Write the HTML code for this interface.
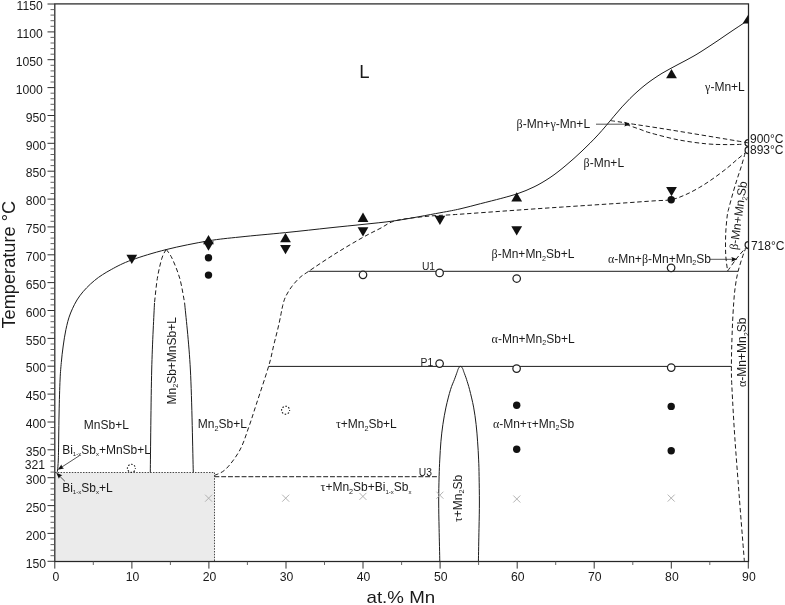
<!DOCTYPE html>
<html lang="en">
<head>
<meta charset="utf-8">
<title>Phase diagram</title>
<style>
html,body{margin:0;padding:0;background:#fff}
svg{display:block}
.s{fill:none;stroke:#1c1c1c;stroke-width:1}
.d{fill:none;stroke:#1c1c1c;stroke-width:1;stroke-dasharray:4.4 2.7}
.m{fill:#111;stroke:none}
.o{fill:#fff;stroke:#222;stroke-width:1.25}
text{font-family:"Liberation Sans",Arial,Helvetica,sans-serif;fill:#1a1a1a}
.sub{font-size:6px}
.sub2{font-size:7.2px}
.g{font-family:"Liberation Serif","Times New Roman",serif}
</style>
</head>
<body>
<svg width="785" height="605" viewBox="0 0 785 605">
<rect width="785" height="605" fill="#fff"/>
<rect x="54.8" y="472.5" width="159.6" height="89" fill="#ebebeb"/>
<path d="M55 472.5H214.5V561.5" fill="none" stroke="#333" stroke-width="0.9" stroke-dasharray="1.5 1.3"/>
<path d="M57 472.5C57.1 472.1 57.4 472.1 57.6 470C57.8 467.9 58.1 465.3 58.3 460C58.5 454.7 58.6 446 58.7 438C58.8 430 58.9 421.8 59.1 412C59.3 402.2 59.7 387.2 60.1 379C60.5 370.8 60.8 368.1 61.3 362.6C61.8 357.1 62.4 351.5 63.2 346C64 340.5 64.7 335.1 65.9 329.6C67.1 324.1 68.3 318.6 70.6 313C72.9 307.4 75.8 301.2 79.8 295.8C83.8 290.4 89.2 284.9 94.5 280.5C99.8 276.1 105.1 272.9 111.3 269.5C117.5 266.1 122.6 263.3 131.7 260C140.8 256.7 153.3 252.8 166.1 249.6C178.8 246.4 195.9 243 208.2 240.9C220.5 238.8 227.1 238.4 240 237C252.9 235.6 270.5 234.1 285.5 232.6C300.5 231.1 317.1 229.2 330 227.8C342.9 226.4 352 225.6 363 224.4C374 223.2 383.2 222.5 396 220.6C408.8 218.7 429.2 214.8 439.9 212.8C450.6 210.9 453.2 210.4 460 208.9C466.8 207.4 473.6 205.4 480.4 203.7C487.2 202 495.9 199.8 500.8 198.5C505.7 197.2 507.1 196.8 510 196C512.9 195.2 515.3 194.4 518 193.5C520.7 192.6 523.3 191.6 526 190.5C528.7 189.4 531.3 188.2 534 186.9C536.7 185.6 539.3 184.2 542 182.6C544.7 181 547.3 179.4 550 177.6C552.7 175.8 555.3 173.9 558 171.8C560.7 169.8 563.3 167.5 566 165.3C568.7 163.1 571.3 160.8 574 158.4C576.7 156 579.3 153.5 582 151C584.7 148.5 587.3 145.9 590 143.2C592.7 140.5 595.3 137.8 598 134.9C600.7 132 603.3 128.9 606 125.8C608.7 122.7 611.3 119.3 614 116.2C616.7 113.1 619.3 109.9 622 106.9C624.7 104 627.3 101.2 630 98.5C632.7 95.8 635.3 93.4 638 91C640.7 88.6 643.3 86.4 646 84.3C648.7 82.2 651.3 80.3 654 78.5C656.7 76.7 659.3 74.9 662 73.3C664.7 71.7 667.3 70.3 670 68.8C672.7 67.3 675.3 65.9 678 64.5C680.7 63.1 683.3 61.7 686 60.3C688.7 58.9 691.3 57.4 694 55.9C696.7 54.4 699.3 52.7 702 51C704.7 49.3 707.3 47.5 710 45.8C712.7 44 715.3 42.3 718 40.5C720.7 38.7 723.3 36.8 726 35C728.7 33.2 731.3 31.4 734 29.6C736.7 27.8 739.6 25.9 742 24.3C744.4 22.7 747.4 20.8 748.5 20.1" class="s"/>
<path d="M166.2 249.4C165.5 250.9 163.4 253.3 161.9 258.2C160.4 263.1 158.5 271.2 157.3 278.6C156.1 286 155 298.8 154.5 302.8" class="d"/>
<path d="M166.2 249.4C167.2 250.9 169.7 253.3 172 258.2C174.3 263.1 177.7 271.2 179.8 278.6C181.9 286 183.8 298.8 184.6 302.8" class="d"/>
<path d="M154.5 302.8C154 314 152.4 341.7 151.7 370C151 398.3 150.5 455.4 150.3 472.5" class="s"/>
<path d="M184.6 302.8C185.6 314 188.9 341.7 190.4 370C191.9 398.3 192.8 455.4 193.3 472.5" class="s"/>
<path d="M439.8 561.5C439.7 556 439.3 538.5 439.1 528.6C438.9 518.7 438.7 510.7 438.7 502C438.7 493.3 438.9 483.6 439.1 476.5C439.3 469.4 439.5 464.9 439.8 459.1C440.1 453.3 440.4 447.6 440.9 441.8C441.4 436 442 430.2 442.9 424.4C443.8 418.6 444.7 412.9 446 407.1C447.3 401.3 449.1 394.3 450.5 389.7C451.9 385.1 453.4 382.2 454.5 379.3C455.6 376.4 456.4 374 457 372.4C457.6 370.8 457.7 370.1 458 369.4C458.3 368.6 458.5 368.3 458.8 367.9C459 367.5 459.2 367.1 459.5 366.9C459.8 366.6 460.2 366.4 460.5 366.4C460.8 366.4 461.2 366.6 461.5 366.9C461.8 367.1 462 367.5 462.2 367.9C462.5 368.3 462.7 368.6 463 369.4C463.3 370.1 463.4 370.8 464 372.4C464.6 374 465.6 376.4 466.5 379.3C467.4 382.2 468.4 385.1 469.6 389.7C470.8 394.3 472.5 401.3 473.6 407.1C474.7 412.9 475.4 418.6 476.1 424.4C476.8 430.2 477.2 436 477.6 441.8C478 447.6 478.4 453.3 478.6 459.1C478.9 464.9 479 469.4 479.1 476.5C479.2 483.6 479.4 493.3 479.4 502C479.4 510.7 479.2 518.7 479 528.6C478.8 538.5 478.5 556 478.4 561.5" class="s"/>
<path d="M308.5 271.3H738" class="s"/>
<path d="M268.4 366.4H731.4" class="s"/>
<path d="M214.4 476.6H439" fill="none" stroke="#4a4a4a" stroke-width="1.4" stroke-dasharray="4.9 1.9"/>
<path d="M214.4 475.5C216.3 474.4 221.7 473.2 225.9 469C230.2 464.8 236.1 457 239.9 450C243.7 443 246.1 434.7 248.8 427C251.6 419.3 253.1 414.1 256.4 404C259.7 393.9 265.7 376.2 268.6 366.4C271.5 356.6 272.2 351.5 273.7 345.3C275.2 339.1 276.5 334.3 277.7 329.4C278.9 324.4 279.9 319.6 280.7 315.6C281.5 311.6 281.9 308.8 282.7 305.6C283.5 302.5 284.1 299.8 285.6 296.7C287.1 293.6 289.3 289.9 291.6 286.8C293.9 283.7 296.7 280.5 299.5 277.9C302.3 275.3 302.6 275.4 308.5 271.4C314.4 267.4 325.9 259.6 335 253.9C344.1 248.2 355.5 241.5 363 237.3C370.5 233.1 374.5 231.3 380 228.5C385.5 225.7 388.2 222.6 396 220.6C403.8 218.6 417.1 217.3 427 216.3C436.9 215.3 440.8 215.5 455.7 214.5C470.6 213.5 498.5 211.4 516.3 210.2C534.1 208.9 546.1 208.1 562.7 207C579.4 205.9 600.8 204.5 616.2 203.5C631.6 202.5 645.8 201.4 655 200.8C664.2 200.2 666.3 200.7 671.3 199.7C676.3 198.7 680.5 196.9 685.1 194.9C689.8 192.9 694.5 190.3 699.2 187.6C703.9 184.9 708.5 181.8 713.2 178.5C717.9 175.2 723.3 171.1 727.3 167.9C731.3 164.7 734.1 162 737.1 159.5C740.1 157 743.9 153.9 745.2 152.8" class="d"/>
<path d="M745.2 152.8C744.6 155.1 742.6 162.1 741.3 166.5C739.9 170.9 738.5 174.8 737.1 179.2C735.7 183.6 734.3 188.3 732.9 193.2C731.5 198.1 729.7 204.9 728.7 208.7C727.8 212.5 727.7 211.8 727.2 216C726.7 220.2 726 227.2 725.7 233.6C725.5 240 725.4 248.4 725.7 254.6C726 260.8 727.3 268.3 727.6 271" class="d"/>
<path d="M727.6 271C729.2 268.8 733.9 261.9 737 258C740.1 254.1 744.5 249.2 746 247.5" class="d"/>
<path d="M746.5 247.5C746.1 248.3 745.4 248.6 744 252.5C742.6 256.4 739.6 265.4 738.2 271C736.8 276.6 736.1 280.7 735.4 286C734.6 291.3 734.2 295.8 733.7 303C733.2 310.2 732.7 318.5 732.3 329C731.9 339.5 731.4 356 731.4 366C731.4 376 731.4 377.1 732 389C732.6 400.9 733.6 419.7 734.8 437.3C736 454.9 737.7 476 739.1 494.6C740.5 513.2 742.5 538 743.4 549.1C744.3 560.2 744.2 559.4 744.4 561.5" class="d"/>
<path d="M610.6 120.6C612.5 120.9 618.9 121.8 622 122.3C625.1 122.8 620.8 122.2 629 123.5C637.2 124.8 652 126.9 671 130C690 133.1 730.4 139.8 742.7 141.9C755 144 744.6 142.2 745 142.3" class="d"/>
<path d="M626 124.5C628.3 125.3 636 127.9 640 129.3C644 130.7 643.6 131.1 650 132.8C656.4 134.6 668.7 138 678.1 139.8C687.5 141.6 698 143 706.2 143.8C714.4 144.6 720.9 144.5 727.3 144.6C733.7 144.7 741.6 144.3 744.5 144.2" class="d"/>
<rect x="54.8" y="3.9" width="693.7" height="557.6" fill="none" stroke="#262626" stroke-width="1.25"/>
<path d="M54.8 561.3H47.5M54.8 533.4H47.5M54.8 505.6H47.5M54.8 477.7H47.5M54.8 449.8H47.5M54.8 422H47.5M54.8 394.1H47.5M54.8 366.2H47.5M54.8 338.4H47.5M54.8 310.5H47.5M54.8 282.6H47.5M54.8 254.8H47.5M54.8 226.9H47.5M54.8 199.1H47.5M54.8 171.2H47.5M54.8 143.3H47.5M54.8 115.5H47.5M54.8 87.6H47.5M54.8 59.7H47.5M54.8 31.9H47.5M54.8 4H47.5M54.8 561.5V568.6M131.9 561.5V568.6M208.9 561.5V568.6M286 561.5V568.6M363 561.5V568.6M440.1 561.5V568.6M517.2 561.5V568.6M594.2 561.5V568.6M671.3 561.5V568.6M748.3 561.5V568.6" fill="none" stroke="#333" stroke-width="1"/>
<path d="M54.8 555.7H50.5M54.8 550.2H50.5M54.8 544.6H50.5M54.8 539H50.5M54.8 527.9H50.5M54.8 522.3H50.5M54.8 516.7H50.5M54.8 511.1H50.5M54.8 500H50.5M54.8 494.4H50.5M54.8 488.9H50.5M54.8 483.3H50.5M54.8 472.1H50.5M54.8 466.6H50.5M54.8 461H50.5M54.8 455.4H50.5M54.8 444.3H50.5M54.8 438.7H50.5M54.8 433.1H50.5M54.8 427.5H50.5M54.8 416.4H50.5M54.8 410.8H50.5M54.8 405.3H50.5M54.8 399.7H50.5M54.8 388.5H50.5M54.8 383H50.5M54.8 377.4H50.5M54.8 371.8H50.5M54.8 360.7H50.5M54.8 355.1H50.5M54.8 349.5H50.5M54.8 344H50.5M54.8 332.8H50.5M54.8 327.2H50.5M54.8 321.7H50.5M54.8 316.1H50.5M54.8 304.9H50.5M54.8 299.4H50.5M54.8 293.8H50.5M54.8 288.2H50.5M54.8 277.1H50.5M54.8 271.5H50.5M54.8 265.9H50.5M54.8 260.4H50.5M54.8 249.2H50.5M54.8 243.6H50.5M54.8 238.1H50.5M54.8 232.5H50.5M54.8 221.3H50.5M54.8 215.8H50.5M54.8 210.2H50.5M54.8 204.6H50.5M54.8 193.5H50.5M54.8 187.9H50.5M54.8 182.3H50.5M54.8 176.8H50.5M54.8 165.6H50.5M54.8 160H50.5M54.8 154.5H50.5M54.8 148.9H50.5M54.8 137.8H50.5M54.8 132.2H50.5M54.8 126.6H50.5M54.8 121H50.5M54.8 109.9H50.5M54.8 104.3H50.5M54.8 98.7H50.5M54.8 93.2H50.5M54.8 82H50.5M54.8 76.4H50.5M54.8 70.9H50.5M54.8 65.3H50.5M54.8 54.2H50.5M54.8 48.6H50.5M54.8 43H50.5M54.8 37.4H50.5M54.8 26.3H50.5M54.8 20.7H50.5M54.8 15.1H50.5M54.8 9.6H50.5M93.3 561.5V565M170.4 561.5V565M247.4 561.5V565M324.5 561.5V565M401.6 561.5V565M478.6 561.5V565M555.7 561.5V565M632.8 561.5V565M709.8 561.5V565" fill="none" stroke="#555" stroke-width="0.9"/>
<path d="M208.5 235L213.9 244.3H203.1Z" class="m"/>
<path d="M285.5 233L290.9 242.3H280.1Z" class="m"/>
<path d="M363 212.6L368.4 221.9H357.6Z" class="m"/>
<path d="M516.7 192.2L522.1 201.5H511.3Z" class="m"/>
<path d="M671.5 69L676.9 78.3H666.1Z" class="m"/>
<path d="M748.5 14.2L748.5 23.5H742.6Z" class="m"/>
<path d="M126.4 254.8H137.2L131.8 264.1Z" class="m"/>
<path d="M203.1 241.5H213.9L208.5 250.8Z" class="m"/>
<path d="M280.1 245H290.9L285.5 254.3Z" class="m"/>
<path d="M357.6 227.2H368.4L363 236.5Z" class="m"/>
<path d="M434.5 215.7H445.3L439.9 225Z" class="m"/>
<path d="M511.3 226.2H522.1L516.7 235.5Z" class="m"/>
<path d="M666.1 187H676.9L671.5 196.3Z" class="m"/>
<circle cx="208.5" cy="257.7" r="3.7" class="m"/>
<circle cx="208.5" cy="275.1" r="3.7" class="m"/>
<circle cx="671.2" cy="199.8" r="3.7" class="m"/>
<circle cx="516.7" cy="405.2" r="3.7" class="m"/>
<circle cx="516.7" cy="449.3" r="3.7" class="m"/>
<circle cx="671.2" cy="406.4" r="3.7" class="m"/>
<circle cx="671.2" cy="450.8" r="3.7" class="m"/>
<circle cx="363" cy="274.8" r="3.75" class="o"/>
<circle cx="439.6" cy="272.9" r="3.75" class="o"/>
<circle cx="516.7" cy="278.5" r="3.75" class="o"/>
<circle cx="671.1" cy="267.8" r="3.75" class="o"/>
<circle cx="439.6" cy="363.6" r="3.75" class="o"/>
<circle cx="516.6" cy="368.6" r="3.75" class="o"/>
<circle cx="671.2" cy="367.6" r="3.75" class="o"/>
<path d="M748.5 139.5A3.4 3.4 0 0 0 748.5 146.3" class="o" style="fill:none" stroke-width="1.4"/>
<path d="M748.5 146.9A3.4 3.4 0 0 0 748.5 153.7" class="o" style="fill:none" stroke-width="1.4"/>
<path d="M748.5 241.7A3.4 3.4 0 0 0 748.5 248.5" class="o" style="fill:none" stroke-width="1.4"/>
<circle cx="131.4" cy="468.3" r="4" fill="none" stroke="#111" stroke-width="1.1" stroke-dasharray="1.5 1.64" stroke-dashoffset="0.75"/>
<circle cx="285.6" cy="410.2" r="4" fill="none" stroke="#111" stroke-width="1.1" stroke-dasharray="1.5 1.64" stroke-dashoffset="0.75"/>
<path d="M205.1 494.7l7 7m0 -7l-7 7M282.2 494.7l7 7m0 -7l-7 7M359.4 492.9l7 7m0 -7l-7 7M436.4 491.7l7 7m0 -7l-7 7M513.3 495.5l7 7m0 -7l-7 7M667.7 494.6l7 7m0 -7l-7 7" fill="none" stroke="#aaa" stroke-width="0.9"/>
<path d="M596 124.2L627.4 124.2" class="s" style="stroke-width:.75"/>
<path d="M630.4 124.2L624.4 126.6L625.2 124.2L624.4 121.8Z" class="m"/>
<path d="M710 259.3L734.4 259.3" class="s" style="stroke-width:.75"/>
<path d="M737.4 259.3L731.4 261.7L732.2 259.3L731.4 256.9Z" class="m"/>
<path d="M79.8 455.4L60.2 468.1" class="s" style="stroke-width:.75"/>
<path d="M57.7 469.7L61.4 464.4L62.1 466.9L64 468.5Z" class="m"/>
<path d="M64.9 481.3L58.4 474.9" class="s" style="stroke-width:.75"/>
<path d="M56.3 472.8L62.3 475.3L60 476.5L58.9 478.7Z" class="m"/>
<text class="t" x="46" y="567.5" font-size="12.2" text-anchor="end">150</text>
<text class="t" x="46" y="539.6" font-size="12.2" text-anchor="end">200</text>
<text class="t" x="46" y="511.8" font-size="12.2" text-anchor="end">250</text>
<text class="t" x="46" y="483.9" font-size="12.2" text-anchor="end">300</text>
<text class="t" x="46" y="456" font-size="12.2" text-anchor="end">350</text>
<text class="t" x="46" y="428.2" font-size="12.2" text-anchor="end">400</text>
<text class="t" x="46" y="400.3" font-size="12.2" text-anchor="end">450</text>
<text class="t" x="46" y="372.4" font-size="12.2" text-anchor="end">500</text>
<text class="t" x="46" y="344.6" font-size="12.2" text-anchor="end">550</text>
<text class="t" x="46" y="316.7" font-size="12.2" text-anchor="end">600</text>
<text class="t" x="46" y="288.8" font-size="12.2" text-anchor="end">650</text>
<text class="t" x="46" y="261" font-size="12.2" text-anchor="end">700</text>
<text class="t" x="46" y="233.1" font-size="12.2" text-anchor="end">750</text>
<text class="t" x="46" y="205.3" font-size="12.2" text-anchor="end">800</text>
<text class="t" x="46" y="177.4" font-size="12.2" text-anchor="end">850</text>
<text class="t" x="46" y="149.5" font-size="12.2" text-anchor="end">900</text>
<text class="t" x="46" y="121.7" font-size="12.2" text-anchor="end">950</text>
<text class="t" x="42.8" y="93.8" font-size="12.2" text-anchor="end">1000</text>
<text class="t" x="42.8" y="65.9" font-size="12.2" text-anchor="end">1050</text>
<text class="t" x="42.8" y="38.1" font-size="12.2" text-anchor="end">1100</text>
<text class="t" x="42.8" y="10.2" font-size="12.2" text-anchor="end">1150</text>
<text class="t" x="45" y="469.2" font-size="12.2" text-anchor="end">321</text>
<text class="t" x="56" y="581.2" font-size="12.2" text-anchor="middle">0</text>
<text class="t" x="132.5" y="581.2" font-size="12.2" text-anchor="middle">10</text>
<text class="t" x="209.5" y="581.2" font-size="12.2" text-anchor="middle">20</text>
<text class="t" x="286.6" y="581.2" font-size="12.2" text-anchor="middle">30</text>
<text class="t" x="363.6" y="581.2" font-size="12.2" text-anchor="middle">40</text>
<text class="t" x="440.7" y="581.2" font-size="12.2" text-anchor="middle">50</text>
<text class="t" x="517.8" y="581.2" font-size="12.2" text-anchor="middle">60</text>
<text class="t" x="594.8" y="581.2" font-size="12.2" text-anchor="middle">70</text>
<text class="t" x="671.9" y="581.2" font-size="12.2" text-anchor="middle">80</text>
<text class="t" x="748.9" y="581.2" font-size="12.2" text-anchor="middle">90</text>
<text class="t" x="14.7" y="328.5" font-size="18.2" transform="rotate(-90 14.7 328.5)">Temperature °C</text>
<text class="t" transform="translate(366.5 602.9) scale(1.17 1)" font-size="16">at.% Mn</text>
<text class="t" x="359.3" y="77.6" font-size="18.5">L</text>
<text class="t" x="705.1" y="91.4" font-size="12"><tspan class="g">γ</tspan>-Mn+L</text>
<text class="t" x="516.6" y="128.1" font-size="12"><tspan class="g">β</tspan>-Mn+<tspan class="g">γ</tspan>-Mn+L</text>
<text class="t" x="583.6" y="167" font-size="12"><tspan class="g">β</tspan>-Mn+L</text>
<text class="t" x="491.6" y="258.1" font-size="12"><tspan class="g">β</tspan>-Mn+Mn<tspan class="sub2" dy="2.4">2</tspan><tspan dy="-2.4">Sb+L</tspan></text>
<text class="t" x="607.9" y="262.6" font-size="12"><tspan class="g">α</tspan>-Mn+<tspan class="g">β</tspan>-Mn+Mn<tspan class="sub2" dy="2.4">2</tspan><tspan dy="-2.4">Sb</tspan></text>
<text class="t" x="491.6" y="342.6" font-size="12"><tspan class="g">α</tspan>-Mn+Mn<tspan class="sub2" dy="2.4">2</tspan><tspan dy="-2.4">Sb+L</tspan></text>
<text class="t" x="492.9" y="428" font-size="12"><tspan class="g">α</tspan>-Mn+<tspan class="g">τ</tspan>+Mn<tspan class="sub2" dy="2.4">2</tspan><tspan dy="-2.4">Sb</tspan></text>
<text class="t" x="335.9" y="428.4" font-size="12"><tspan class="g">τ</tspan>+Mn<tspan class="sub2" dy="2.4">2</tspan><tspan dy="-2.4">Sb+L</tspan></text>
<text class="t" x="197.8" y="428.3" font-size="12">Mn<tspan class="sub2" dy="2.4">2</tspan><tspan dy="-2.4">Sb+L</tspan></text>
<text class="t" x="83.8" y="429.4" font-size="12">MnSb+L</text>
<text class="t" x="62.2" y="453.8" font-size="12">Bi<tspan class="sub" dy="2.4">1-x</tspan><tspan dy="-2.4">Sb</tspan><tspan class="sub" dy="2.4">x</tspan><tspan dy="-2.4">+MnSb+L</tspan></text>
<text class="t" x="62.2" y="491.7" font-size="12">Bi<tspan class="sub" dy="2.4">1-x</tspan><tspan dy="-2.4">Sb</tspan><tspan class="sub" dy="2.4">x</tspan><tspan dy="-2.4">+L</tspan></text>
<text class="t" x="320.6" y="491.3" font-size="12"><tspan class="g">τ</tspan>+Mn<tspan class="sub2" dy="2.4">2</tspan><tspan dy="-2.4">Sb+Bi</tspan><tspan class="sub" dy="2.4">1-x</tspan><tspan dy="-2.4">Sb</tspan><tspan class="sub" dy="2.4">x</tspan></text>
<text class="t" x="421.9" y="269.8" font-size="10.3">U1</text>
<text class="t" x="420.6" y="365.9" font-size="10.3">P1</text>
<text class="t" x="418.8" y="475.7" font-size="10.3">U3</text>
<text class="t" x="750" y="143.3" font-size="12">900°C</text>
<text class="t" x="750" y="153.9" font-size="12">893°C</text>
<text class="t" x="750.9" y="249.6" font-size="12">718°C</text>
<text class="t" x="175.8" y="404.5" font-size="12" transform="rotate(-90 175.8 404.5)">Mn<tspan class="sub2" dy="2.4">2</tspan><tspan dy="-2.4">Sb+MnSb+L</tspan></text>
<text class="t" x="461.9" y="522" font-size="12" transform="rotate(-90 461.9 522)"><tspan class="g">τ</tspan>+Mn<tspan class="sub2" dy="2.4">2</tspan><tspan dy="-2.4">Sb</tspan></text>
<text class="t" x="746.3" y="387" font-size="12" transform="rotate(-90 746.3 387)"><tspan class="g">α</tspan>-Mn+Mn<tspan class="sub2" dy="2.4">2</tspan><tspan dy="-2.4">Sb</tspan></text>
<text class="t" x="737.5" y="250.3" font-size="12" transform="rotate(-82 737.5 250.3)"><tspan class="g">β</tspan>-Mn+Mn<tspan class="sub2" dy="2.4">2</tspan><tspan dy="-2.4">Sb</tspan></text>
</svg>
</body>
</html>
